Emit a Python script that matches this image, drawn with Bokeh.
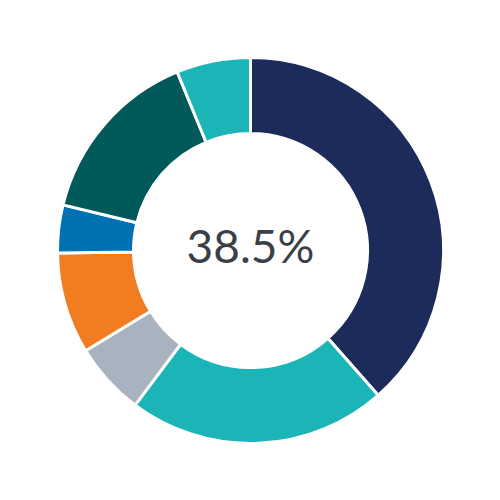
import math
from bokeh.plotting import figure
from bokeh.models import ColumnDataSource, Range1d
from bokeh.core.properties import value
from bokeh.embed import file_html
from bokeh.resources import INLINE

categories = ["A", "B", "C", "D", "E", "F", "G"]
values = [38.5, 21.7, 6.1, 8.5, 4.0, 15.0, 6.2]
colors = ["#1c2b5a", "#1bb4b7", "#a9b3c0", "#f27d21", "#0072b4", "#02595a", "#1bb4b7"]
center_label = "38.5%"

W = H = 484
CX, CY = 250, H - 250
total = sum(values)
starts, ends = [], []
acc = 0.0
for v in values:
    starts.append(math.pi / 2 - acc / total * 2 * math.pi)
    acc += v
    ends.append(math.pi / 2 - acc / total * 2 * math.pi)

src = ColumnDataSource(dict(cat=categories, val=values, color=colors,
                            start=starts, end=ends,
                            x=[CX] * len(values), y=[CY] * len(values)))

p = figure(width=W, height=H, output_backend="svg", toolbar_location=None,
           x_range=Range1d(0, W), y_range=Range1d(0, H), min_border=0)
p.annular_wedge(x="x", y="y", inner_radius=117, outer_radius=193,
                start_angle="start", end_angle="end", direction="clock",
                fill_color="color", line_color="white", line_width=3, source=src)
p.text(x=[CX], y=[CY + 5], text=[center_label], text_align="center",
       text_baseline="middle", text_font=value("Lato"), text_font_size="46px",
       text_color="#3b3f47")
p.axis.visible = False
p.grid.visible = False
p.outline_line_color = None
p.background_fill_color = "white"
p.border_fill_color = "white"

open("out.html", "w").write(file_html(p, INLINE))
